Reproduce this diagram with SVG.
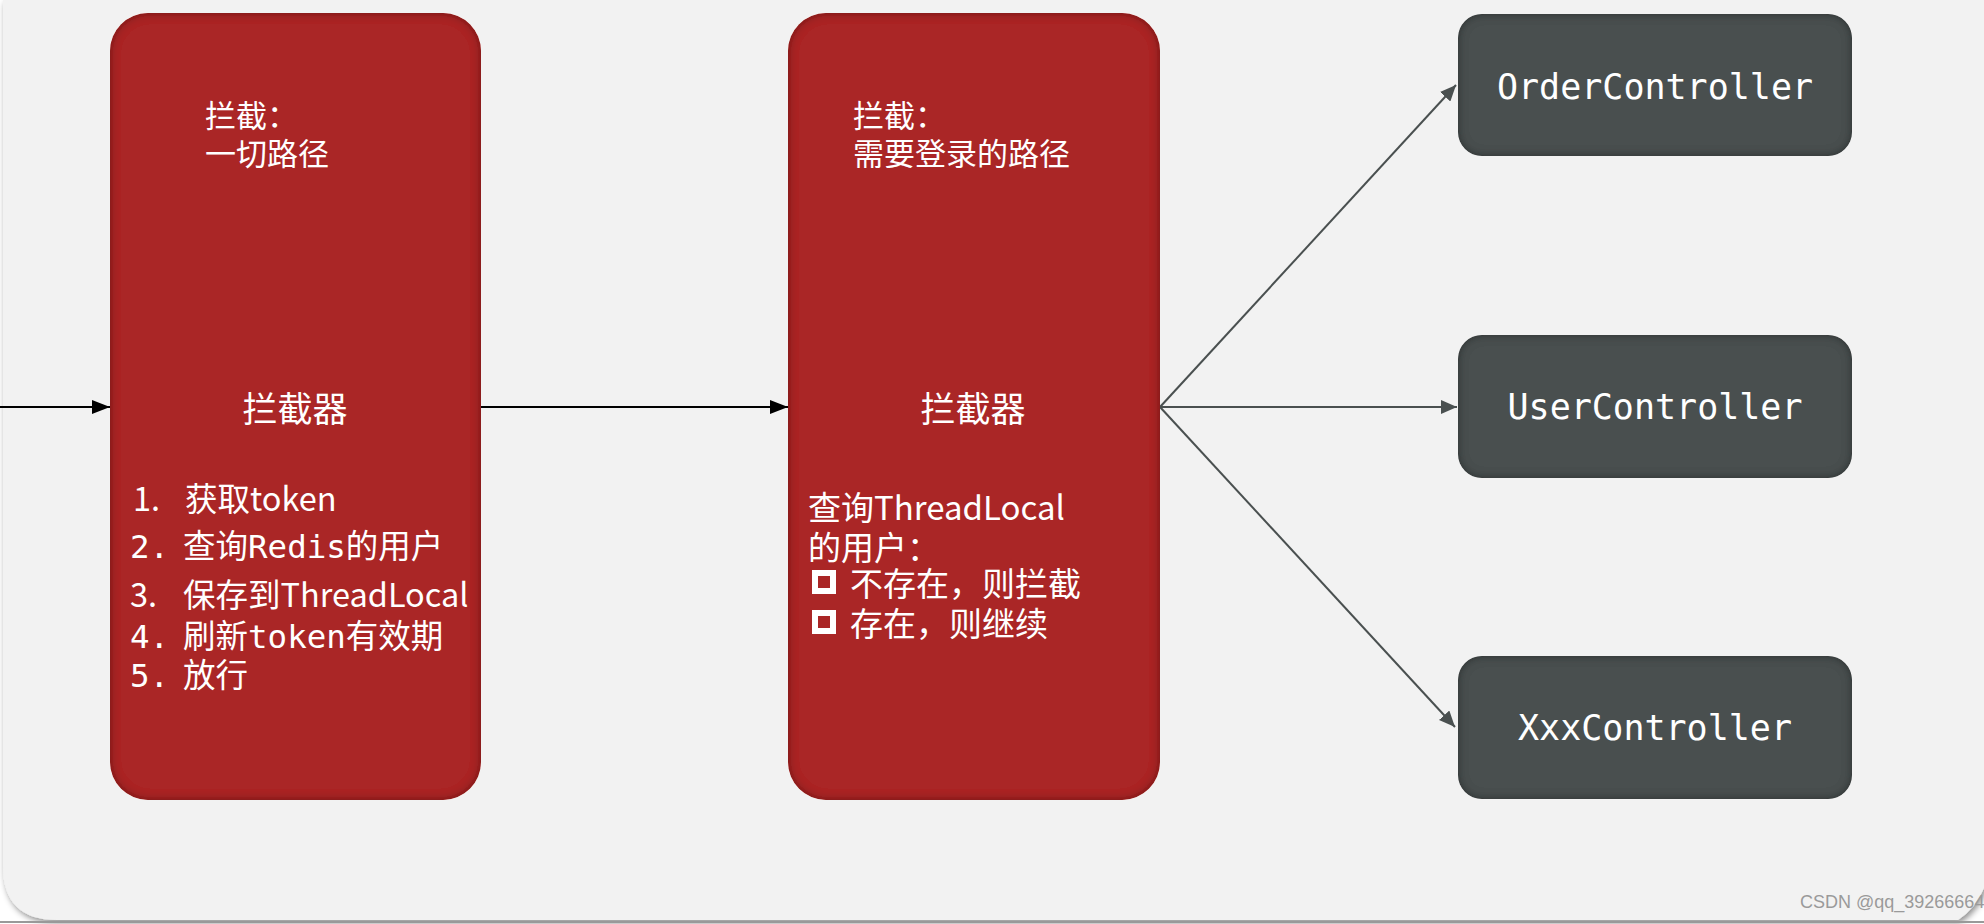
<svg xmlns="http://www.w3.org/2000/svg" width="1984" height="924" viewBox="0 0 1984 924">
<defs>
<style>
.cjk{font-family:"Noto Sans CJK SC","Noto Sans",sans-serif;fill:#ffffff}
.mono{font-family:"DejaVu Sans Mono","Liberation Mono",monospace;fill:#ffffff}
.red{fill:#aa2826}
.dark{fill:#4a5050}
.main{stroke:#000;stroke-width:2;fill:none}
.gray{stroke:#4a5050;stroke-width:2;fill:none}
</style>
<filter id="inner" x="-5%" y="-5%" width="110%" height="110%">
<feGaussianBlur in="SourceAlpha" stdDeviation="5" result="b"/>
<feComposite in="SourceAlpha" in2="b" operator="arithmetic" k2="1" k3="-1" result="edge"/>
<feFlood flood-color="#000" flood-opacity="0.75"/>
<feComposite in2="edge" operator="in" result="shadow"/>
<feMerge><feMergeNode in="SourceGraphic"/><feMergeNode in="shadow"/></feMerge>
</filter>
<filter id="frameShadow" x="-5%" y="-5%" width="110%" height="110%">
<feDropShadow dx="2" dy="3" stdDeviation="3" flood-color="#000" flood-opacity="0.45"/>
</filter>
<marker id="ahBlack" markerWidth="18" markerHeight="14" refX="18" refY="7" orient="auto" markerUnits="userSpaceOnUse">
<path d="M0,0 L18,7 L0,14 Z" fill="#000"/>
</marker>
<marker id="ahGray" markerWidth="16" markerHeight="14" refX="16" refY="7" orient="auto" markerUnits="userSpaceOnUse">
<path d="M0,0 L16,7 L0,14 Z" fill="#4a5050"/>
</marker>
</defs>
<rect x="0" y="0" width="1984" height="924" fill="#ffffff"/>
<g id="frame">
<path d="M3,0 L3,866 Q3,920 57,920 L1958,920 Q1976,908 1984,888 L1984,0 Z" fill="#f2f2f2" filter="url(#frameShadow)"/>
<line x1="0" y1="922" x2="1984" y2="922" stroke="#999" stroke-width="2"/>
</g>
<g id="connectors">
<line class="main" x1="0" y1="407" x2="110" y2="407" marker-end="url(#ahBlack)"/>
<line class="main" x1="481" y1="407" x2="788" y2="407" marker-end="url(#ahBlack)"/>
<line class="gray" x1="1160" y1="407" x2="1456" y2="85" marker-end="url(#ahGray)"/>
<line class="gray" x1="1160" y1="407" x2="1457" y2="407" marker-end="url(#ahGray)"/>
<line class="gray" x1="1160" y1="407" x2="1455" y2="727" marker-end="url(#ahGray)"/>
</g>
<g id="interceptor1">
<rect class="red" x="110" y="13" width="371" height="787" rx="38" ry="38" filter="url(#inner)"/>
<text class="cjk" font-size="31" x="205" y="127">拦截：</text>
<text class="cjk" font-size="31" x="205" y="165">一切路径</text>
<text class="cjk" font-size="35" x="295" y="422" text-anchor="middle">拦截器</text>
<text class="cjk" font-size="32.5" x="133" y="511">1.<tspan x="185">获取token</tspan></text>
<text class="cjk" font-size="32.5" y="558"><tspan class="mono" x="130">2.</tspan><tspan x="183">查询</tspan><tspan class="mono">Redis</tspan><tspan>的用户</tspan></text>
<text class="cjk" font-size="32.5" x="130" y="607">3.<tspan x="183">保存到ThreadLocal</tspan></text>
<text class="cjk" font-size="32.5" y="648"><tspan class="mono" x="130">4.</tspan><tspan x="183">刷新</tspan><tspan class="mono">token</tspan><tspan>有效期</tspan></text>
<text class="cjk" font-size="32.5" y="687"><tspan class="mono" x="130">5.</tspan><tspan x="183">放行</tspan></text>
</g>
<g id="interceptor2">
<rect class="red" x="788" y="13" width="372" height="787" rx="38" ry="38" filter="url(#inner)"/>
<text class="cjk" font-size="31" x="853" y="127">拦截：</text>
<text class="cjk" font-size="31" x="853" y="165">需要登录的路径</text>
<text class="cjk" font-size="35" x="973" y="422" text-anchor="middle">拦截器</text>
<text class="cjk" font-size="33" x="808" y="520">查询ThreadLocal</text>
<text class="cjk" font-size="33" x="808" y="560">的用户：</text>
<rect x="815" y="573" width="18" height="18" fill="none" stroke="#fff" stroke-width="6"/>
<text class="cjk" font-size="33" x="850" y="596">不存在，则拦截</text>
<rect x="815" y="613" width="18" height="18" fill="none" stroke="#fff" stroke-width="6"/>
<text class="cjk" font-size="33" x="850" y="636">存在，则继续</text>
</g>
<g id="orderController">
<rect class="dark" x="1458" y="14" width="394" height="142" rx="24" ry="24" filter="url(#inner)"/>
<text class="mono" font-size="35" x="1655" y="99" text-anchor="middle">OrderController</text>
</g>
<g id="userController">
<rect class="dark" x="1458" y="335" width="394" height="143" rx="24" ry="24" filter="url(#inner)"/>
<text class="mono" font-size="35" x="1655" y="419" text-anchor="middle">UserController</text>
</g>
<g id="xxxController">
<rect class="dark" x="1458" y="656" width="394" height="143" rx="24" ry="24" filter="url(#inner)"/>
<text class="mono" font-size="35" x="1655" y="740" text-anchor="middle">XxxController</text>
</g>
<text x="1800" y="908" font-family="Liberation Sans, sans-serif" font-size="18" fill="#9a9a9a">CSDN @qq_39266664</text>
</svg>
